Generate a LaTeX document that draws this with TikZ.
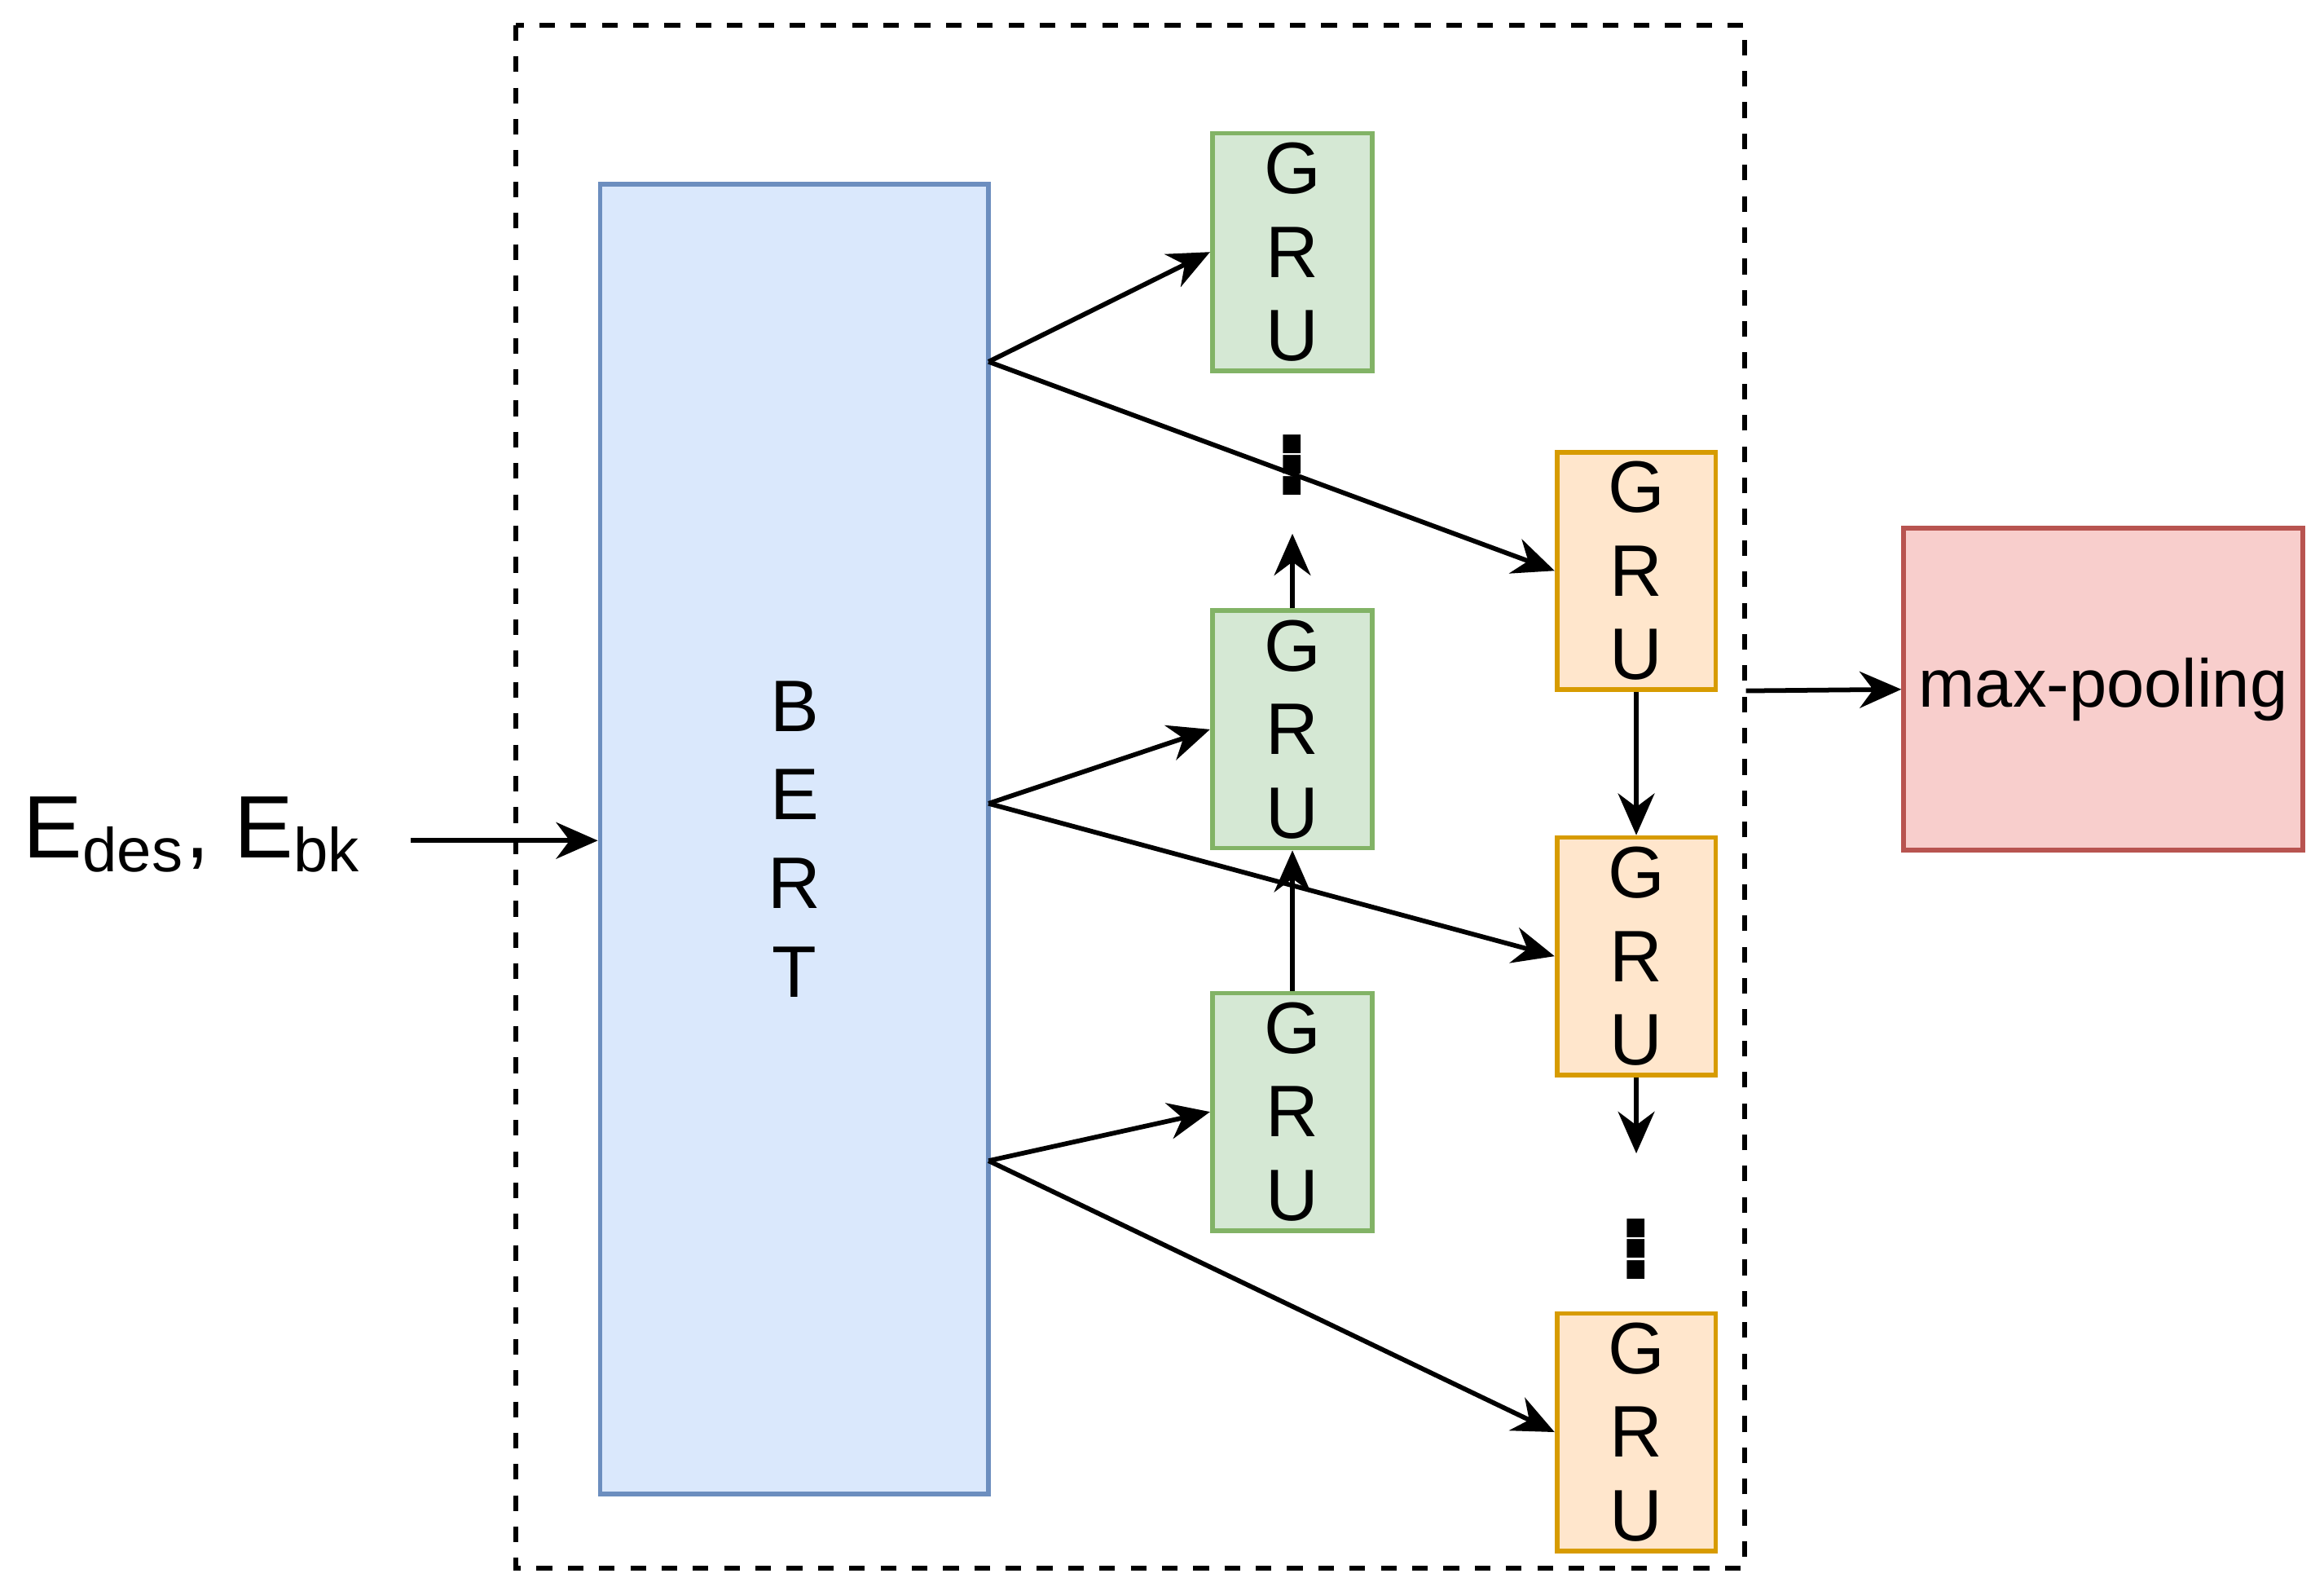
\documentclass[tikz,border=0pt]{standalone}
\usepackage{fontspec}
\setmainfont{Liberation Sans}
\usetikzlibrary{arrows.meta}
\definecolor{bfill}{HTML}{DAE8FC}\definecolor{bdraw}{HTML}{6C8EBF}
\definecolor{gfill}{HTML}{D5E8D4}\definecolor{gdraw}{HTML}{82B366}
\definecolor{ofill}{HTML}{FFE6CC}\definecolor{odraw}{HTML}{D79B00}
\definecolor{rfill}{HTML}{F8CECC}\definecolor{rdraw}{HTML}{B85450}
\begin{document}
\begin{tikzpicture}[x=0.01cm,y=-0.01cm,
  box/.style={draw, line width=0.9pt, inner sep=0pt, align=center, font=\fontsize{14}{16}\selectfont},
  bert/.style={box, fill=bfill, draw=bdraw, minimum width=2.62cm, minimum height=8.83cm, font=\fontsize{14}{17}\selectfont},
  ggru/.style={box, fill=gfill, draw=gdraw, minimum width=1.08cm, minimum height=1.6cm},
  ogru/.style={box, fill=ofill, draw=odraw, minimum width=1.07cm, minimum height=1.6cm},
  dots/.style={font=\fontsize{24}{24}\selectfont\bfseries, inner sep=0pt},
  arr/.style={-{Stealth[length=8pt,width=7pt]}, line width=0.9pt}]
\useasboundingbox (0,0) rectangle (1568,1073);
\draw[dashed, line width=0.9pt] (348,17) rectangle (1177,1058);
\node[bert] (bert) at (536,566) {B\\E\\R\\T};
\node[ggru] (g1) at (872,170) {G\\R\\U};
\node[ggru] (g2) at (872,492) {G\\R\\U};
\node[ggru] (g3) at (872,750) {G\\R\\U};
\node[ogru] (o1) at (1104,385) {G\\R\\U};
\node[ogru] (o2) at (1104,645) {G\\R\\U};
\node[ogru] (o3) at (1104,966) {G\\R\\U};
\node[box, fill=rfill, draw=rdraw, minimum width=2.69cm, minimum height=2.17cm, font=\fontsize{13}{16}\selectfont] (mp) at (1419,465) {max-pooling};
\node[font=\fontsize{17}{20}\selectfont] (in) at (130,563) {E\textsubscript{des}, E\textsubscript{bk}};
\node[dots] (d1) at (872,303) {$\vdots$};
\node[dots] (d2) at (1104,832) {$\vdots$};
\coordinate (in0) at (277,567);
\coordinate (b1) at (667,244);
\coordinate (b2) at (667,542);
\coordinate (b3) at (667,783);
\coordinate (up) at (872,360);
\coordinate (dn) at (1104,778);
\coordinate (edge) at (1178,466);
\draw[arr] (in0) -- (bert.west |- in0);
\draw[arr] (b1) -- (g1.west);
\draw[arr] (b1) -- (o1.west);
\draw[arr] (b2) -- (g2.west);
\draw[arr] (b2) -- (o2.west);
\draw[arr] (b3) -- (g3.west);
\draw[arr] (b3) -- (o3.west);
\draw[arr] (g3.north) -- (g2.south);
\draw[arr] (g2.north) -- (up);
\draw[arr] (o1.south) -- (o2.north);
\draw[arr] (o2.south) -- (dn);
\draw[arr] (edge) -- (mp.west);
\end{tikzpicture}
\end{document}
